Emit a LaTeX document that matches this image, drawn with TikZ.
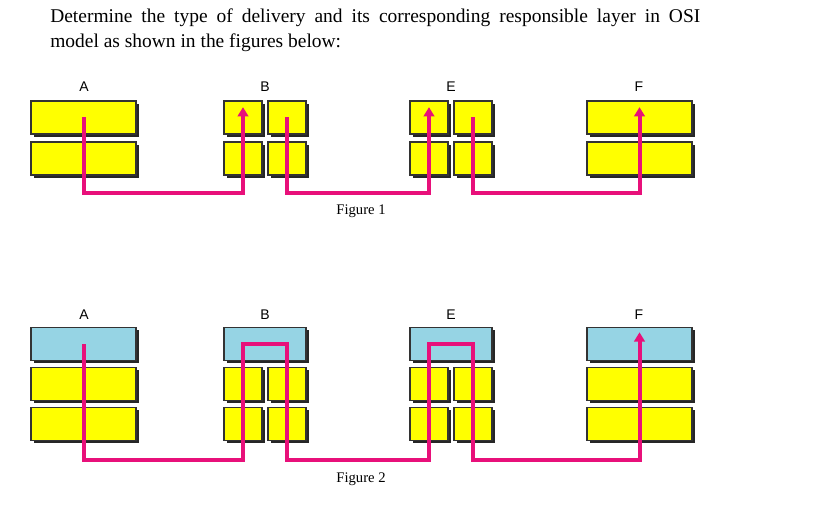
\documentclass[tikz,border=0pt]{standalone}
\usepackage{fontspec}
\setmainfont{Liberation Serif}
\newfontfamily\labelfont{Liberation Sans}
\usetikzlibrary{positioning, arrows.meta, shadows}

\tikzset{
  layer/.style={draw=black!80, line width=0.8pt, inner sep=0pt, minimum height=24.75pt,
    drop shadow={shadow xshift=2.2pt, shadow yshift=-2.2pt, fill=black!85, opacity=1}},
  wide/.style={layer, fill={rgb,255:red,255;green,255;blue,0}, minimum width=78.75pt},
  half/.style={layer, fill={rgb,255:red,255;green,255;blue,0}, minimum width=28.5pt},
  net/.style={layer, fill={rgb,255:red,150;green,212;blue,228}, minimum width=61.5pt},
  route/.style={draw={rgb,255:red,232;green,16;blue,122}, line width=3pt},
  tip/.style={-{Triangle[length=7pt,width=8pt]}},
  host/.style={font=\labelfont\fontsize{10.5}{12}\selectfont}
}

\begin{document}
\begin{tikzpicture}[x=0.75pt, y=-0.75pt]
\useasboundingbox (0,0) rectangle (837,509);

\node[anchor=north west, text width=487.5pt, align=justify, font=\fontsize{14.6}{18.5}\selectfont, inner sep=0pt] (task) at (50,9)
  {Determine the type of delivery and its corresponding responsible layer in OSI\linebreak model as shown in the figures below:};

% figure 1
\node[host] (la1) at (84,87) {A};
\node[host] (lb1) at (265,87) {B};
\node[host] (le1) at (451,87) {E};
\node[host] (lf1) at (639,87) {F};

\node[wide] (a11) at (83.5,117.5) {};
\node[wide] (a12) at (83.5,158.5) {};
\node[half] (bl11) at (243,117.5) {};
\node[half] (bl12) at (243,158.5) {};
\node[half] (br11) at (287,117.5) {};
\node[half] (br12) at (287,158.5) {};
\node[half] (el11) at (429,117.5) {};
\node[half] (el12) at (429,158.5) {};
\node[half] (er11) at (473,117.5) {};
\node[half] (er12) at (473,158.5) {};
\node[wide] (f11) at (639.5,117.5) {};
\node[wide] (f12) at (639.5,158.5) {};

\coordinate (low1) at (0,193);
\draw[route, tip] (a11.center) -- (a11.center |- low1) -- (bl11.center |- low1) -- ([yshift=-5pt]bl11.north);
\draw[route, tip] (br11.center) -- (br11.center |- low1) -- (el11.center |- low1) -- ([yshift=-5pt]el11.north);
\draw[route, tip] (er11.center) -- (er11.center |- low1) -- (f11.center |- low1) -- ([yshift=-5pt]f11.north);

\node[font=\fontsize{11}{13}\selectfont] (cap1) at (361,211) {Figure 1};

% figure 2
\node[host] (la2) at (84,315) {A};
\node[host] (lb2) at (265,315) {B};
\node[host] (le2) at (451,315) {E};
\node[host] (lf2) at (639,315) {F};

\node[net, minimum width=78.75pt] (a20) at (83.5,344) {};
\node[wide] (a21) at (83.5,384) {};
\node[wide] (a22) at (83.5,424) {};
\node[net] (b20) at (265,344) {};
\node[half] (bl21) at (243,384) {};
\node[half] (bl22) at (243,424) {};
\node[half] (br21) at (287,384) {};
\node[half] (br22) at (287,424) {};
\node[net] (e20) at (451,344) {};
\node[half] (el21) at (429,384) {};
\node[half] (el22) at (429,424) {};
\node[half] (er21) at (473,384) {};
\node[half] (er22) at (473,424) {};
\node[net, minimum width=78.75pt] (f20) at (639.5,344) {};
\node[wide] (f21) at (639.5,384) {};
\node[wide] (f22) at (639.5,424) {};

\coordinate (low2) at (0,460);
\draw[route, tip] (a20.center) -- (a20.center |- low2) -- (bl21.center |- low2)
  -- (bl21.center |- b20.center) -- (br21.center |- b20.center) -- (br21.center |- low2)
  -- (el21.center |- low2) -- (el21.center |- e20.center) -- (er21.center |- e20.center)
  -- (er21.center |- low2) -- (f20.center |- low2) -- ([yshift=-4pt]f20.north);

\node[font=\fontsize{11}{13}\selectfont] (cap2) at (361,479) {Figure 2};
\end{tikzpicture}
\end{document}
